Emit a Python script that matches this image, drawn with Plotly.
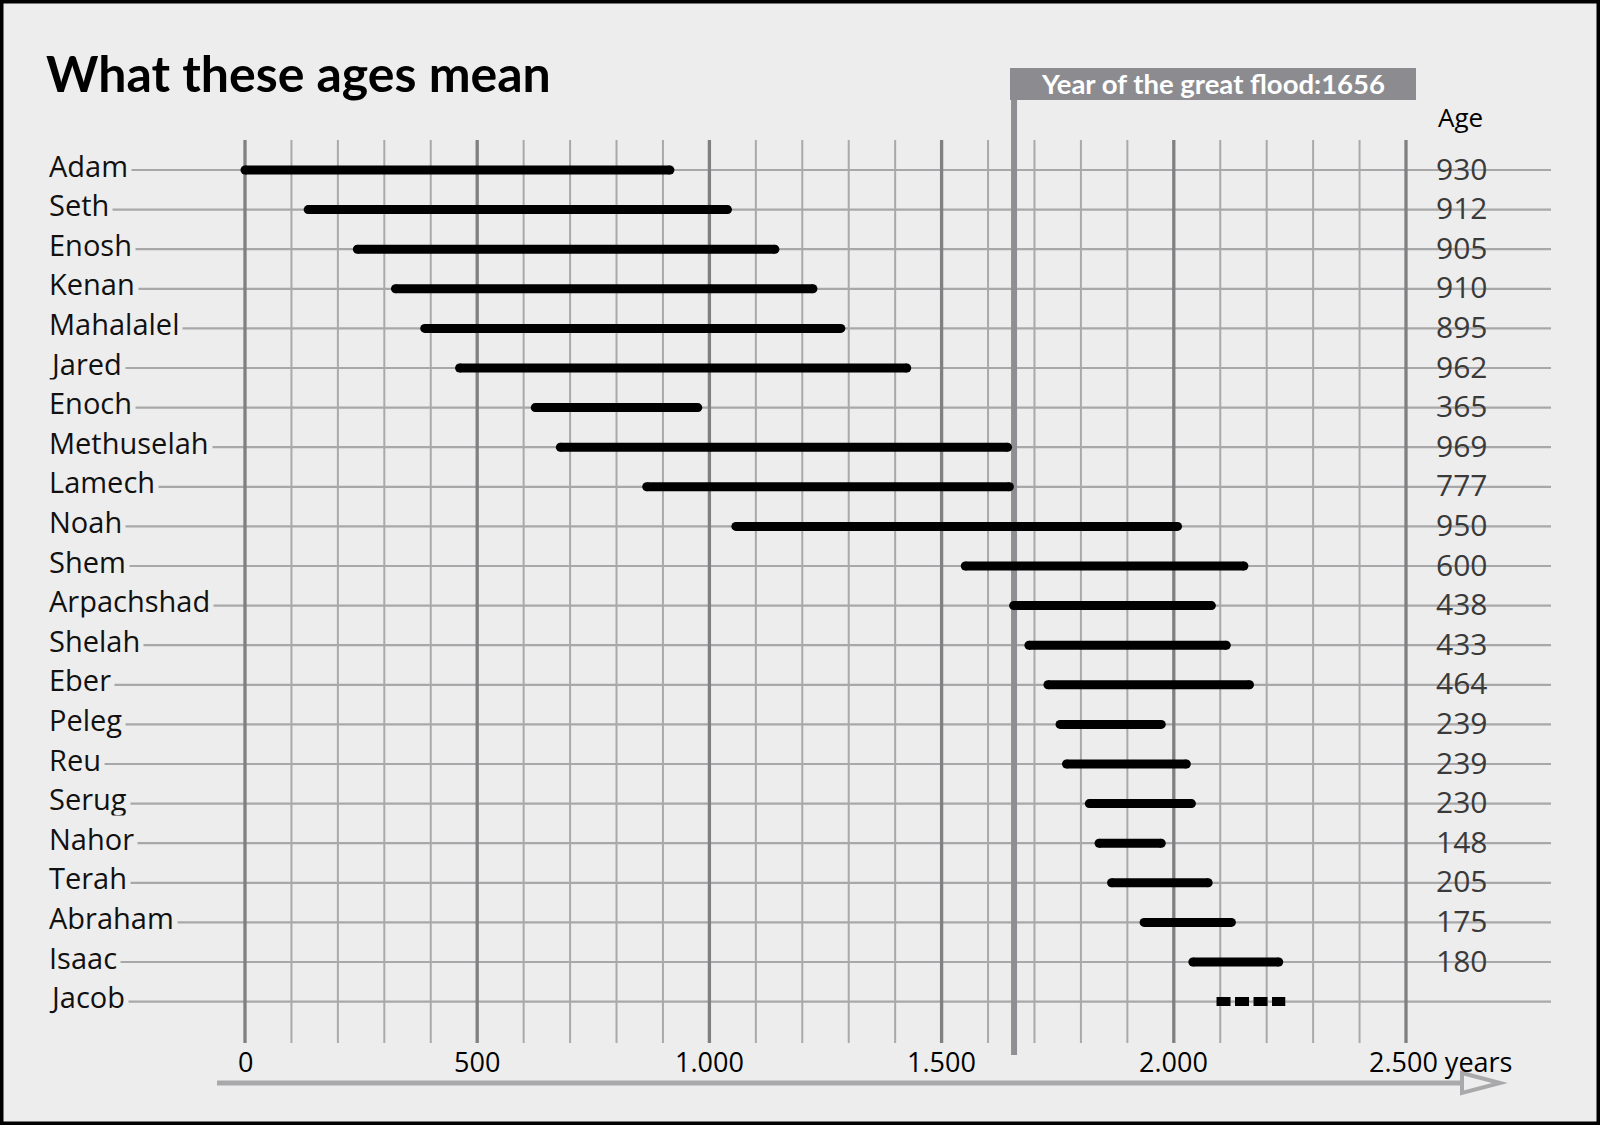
import plotly.graph_objects as go

# patriarchs, years after creation
names = ['Adam', 'Seth', 'Enosh', 'Kenan', 'Mahalalel', 'Jared', 'Enoch',
         'Methuselah', 'Lamech', 'Noah', 'Shem', 'Arpachshad', 'Shelah',
         'Eber', 'Peleg', 'Reu', 'Serug', 'Nahor', 'Terah', 'Abraham',
         'Isaac', 'Jacob']
born = [0, 136, 242, 324, 387, 462, 625, 679, 865, 1057, 1551, 1655,
        1688, 1729, 1755, 1769, 1818, 1839, 1866, 1936, 2041, 2092]
died = [915, 1039, 1141, 1223, 1283, 1425, 975, 1642, 1646, 2008, 2151,
        2081, 2113, 2163, 1973, 2027, 2038, 1973, 2074, 2124, 2226, 2240]
ages = [930, 912, 905, 910, 895, 962, 365, 969, 777, 950, 600, 438, 433,
        464, 239, 239, 230, 148, 205, 175, 180, None]
flood_year = 1656
tick_years = [0, 500, 1000, 1500, 2000, 2500]
tick_text = ['0', '500', '1.000', '1.500', '2.000', '2.500']
minor_years = list(range(0, 2501, 100))

W, H = 1600, 1125
BG = '#ededed'
FONT = 'Open Sans'


def px(x):
    return x / W


def py(y):
    return 1 - y / H


# axis mapping: year 0 -> 245px, 2500 -> 1406px ; row 0 -> 170px, step 39.6px
k = (1406 - 245) / 2500
x_range = [-245 / k, (W - 245) / k]
y_range = [(H - 170) / 39.6, -170 / 39.6]

fig = go.Figure()

# lifespans (solid ones in one trace, Jacob dotted)
xs, ys = [], []
for i in range(len(names) - 1):
    xs += [born[i], died[i], None]
    ys += [i, i, None]
fig.add_trace(go.Scatter(
    x=xs, y=ys, mode='lines+markers',
    line=dict(color='black', width=9),
    marker=dict(color='black', size=9, line_width=0),
    hoverinfo='skip', showlegend=False,
))
j = len(names) - 1
fig.add_trace(go.Scatter(
    x=[born[j], died[j]], y=[j, j], mode='lines',
    line=dict(color='black', width=9, dash='14px,4.5px'),
    hoverinfo='skip', showlegend=False,
))

shapes = []
# horizontal rules for each row
for i in range(len(names)):
    shapes.append(dict(type='line', xref='paper', yref='y',
                       x0=px(50), x1=px(1551), y0=i, y1=i,
                       line=dict(color='#a8a8aa', width=2.2), layer='below'))
# vertical grid every 100 years
for yr in minor_years:
    major = yr % 500 == 0
    shapes.append(dict(type='line', xref='x', yref='paper',
                       x0=yr, x1=yr, y0=py(140), y1=py(1043),
                       line=dict(color='#808083' if major else '#a9a9ab',
                                 width=3.3 if major else 2),
                       layer='below'))
# flood marker
shapes.append(dict(type='line', xref='x', yref='paper',
                   x0=flood_year, x1=flood_year, y0=py(98), y1=py(1055),
                   line=dict(color='#8f8f93', width=6), layer='below'))
shapes.append(dict(type='rect', xref='paper', yref='paper',
                   x0=px(1010), x1=px(1416), y0=py(68), y1=py(100),
                   fillcolor='#8c8c90', line_width=0, layer='below'))
# time arrow
shapes.append(dict(type='line', xref='paper', yref='paper',
                   x0=px(217), x1=px(1462), y0=py(1083), y1=py(1083),
                   line=dict(color='#a9a9ac', width=5)))
shapes.append(dict(type='path', xref='paper', yref='paper',
                   path='M {} {} L {} {} L {} {} Z'.format(
                       px(1462), py(1073), px(1500), py(1083),
                       px(1462), py(1093)),
                   fillcolor=BG, line=dict(color='#a9a9ac', width=4)))
# outer frame
shapes.append(dict(type='rect', xref='paper', yref='paper',
                   x0=0, x1=1, y0=0, y1=1, line=dict(color='black', width=7)))

ann = []
ann.append(dict(text='<b>What these ages mean</b>', xref='paper', yref='paper',
                x=px(44), y=py(73), xanchor='left', yanchor='middle',
                showarrow=False, font=dict(family='Lato', size=50, color='black')))
ann.append(dict(text='<b>Year of the great flood:1656</b>', xref='paper', yref='paper',
                x=px(1213), y=py(84), xanchor='center', yanchor='middle',
                showarrow=False, font=dict(family='Lato', size=27.5, color='white')))
ann.append(dict(text='Age', xref='paper', yref='paper',
                x=px(1436), y=py(117), xanchor='left', yanchor='middle',
                showarrow=False, font=dict(family=FONT, size=26, color='black')))
for i, n in enumerate(names):
    ann.append(dict(text=n, xref='paper', yref='y', x=px(45), y=i,
                    xanchor='left', yanchor='middle', yshift=5,
                    showarrow=False, bgcolor=BG, borderpad=3,
                    font=dict(family=FONT, size=29, color='#111111')))
    if ages[i] is not None:
        ann.append(dict(text=str(ages[i]), xref='paper', yref='y', x=px(1461), y=i,
                        xanchor='center', yanchor='middle', yshift=2,
                        showarrow=False,
                        font=dict(family=FONT, size=30, color='#3a3a3a')))
for yr, t in zip(tick_years, tick_text):
    if yr == tick_years[-1]:
        ann.append(dict(text=t + ' years', xref='x', yref='paper', x=yr,
                        y=py(1061), xanchor='left', yanchor='middle', xshift=-39,
                        showarrow=False, font=dict(family=FONT, size=27, color='black')))
    else:
        ann.append(dict(text=t, xref='x', yref='paper', x=yr, y=py(1061),
                        xanchor='center', yanchor='middle', showarrow=False,
                        font=dict(family=FONT, size=27, color='black')))

fig.update_layout(
    width=W, height=H,
    margin=dict(l=0, r=0, t=0, b=0, pad=0),
    paper_bgcolor=BG, plot_bgcolor=BG,
    xaxis=dict(range=x_range, visible=False, fixedrange=True),
    yaxis=dict(range=y_range, visible=False, fixedrange=True),
    shapes=shapes, annotations=ann,
    showlegend=False,
)

# drop the default page margin so the figure sits at the window origin
fig.write_html("out.html", config={'displayModeBar': False},
               post_script="document.body.style.margin='0';"
                           "document.body.style.overflow='hidden';")
